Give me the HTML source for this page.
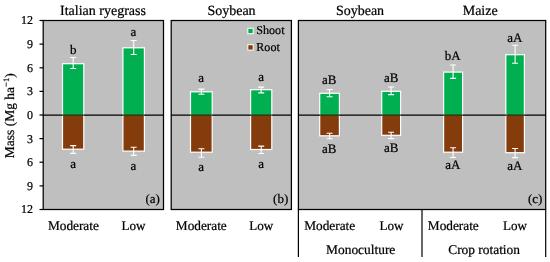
<!DOCTYPE html>
<html><head><meta charset="utf-8"><title>Chart</title><style>html,body{margin:0;padding:0;background:#fff}</style></head><body>
<svg width="550" height="262" viewBox="0 0 550 262" style="display:block;font-family:'Liberation Serif','Times New Roman',serif" text-rendering="geometricPrecision"><style>text{stroke:#000;stroke-width:.22px;fill:#000}</style>
<rect width="550" height="262" fill="#fff"/>
<rect x="43.2" y="20.5" width="120.3" height="189.0" fill="#bfbfbf" stroke="#000" stroke-width="1.25"/>
<rect x="171.2" y="20.5" width="120.2" height="189.0" fill="#bfbfbf" stroke="#000" stroke-width="1.25"/>
<rect x="298.4" y="20.5" width="247.3" height="189.0" fill="#bfbfbf" stroke="#000" stroke-width="1.25"/>
<rect x="62.50" y="63.70" width="21.30" height="51.30" fill="#00b050"/>
<rect x="62.50" y="115.0" width="21.30" height="34.20" fill="#843c0c"/>
<rect x="62.50" y="63.70" width="21.30" height="85.50" fill="none" stroke="#fff" stroke-width="1.2"/>
<path d="M73.2 57.5V68.5M70.2 57.5h6M70.2 68.5h6" stroke="#fff" stroke-width="1.1" fill="none"/>
<path d="M73.2 145.6V153.4M70.2 145.6h6M70.2 153.4h6" stroke="#fff" stroke-width="1.1" fill="none"/>
<text x="73.2" y="53.5" font-size="13" text-anchor="middle">b</text>
<text x="73.2" y="168.2" font-size="13" text-anchor="middle">a</text>
<rect x="122.90" y="47.80" width="21.50" height="67.20" fill="#00b050"/>
<rect x="122.90" y="115.0" width="21.50" height="36.10" fill="#843c0c"/>
<rect x="122.90" y="47.80" width="21.50" height="103.30" fill="none" stroke="#fff" stroke-width="1.2"/>
<path d="M133.7 40.5V54.5M130.7 40.5h6M130.7 54.5h6" stroke="#fff" stroke-width="1.1" fill="none"/>
<path d="M133.7 147.3V155.4M130.7 147.3h6M130.7 155.4h6" stroke="#fff" stroke-width="1.1" fill="none"/>
<text x="133.5" y="35.8" font-size="13" text-anchor="middle">a</text>
<text x="133.5" y="170.1" font-size="13" text-anchor="middle">a</text>
<rect x="190.50" y="91.80" width="21.70" height="23.20" fill="#00b050"/>
<rect x="190.50" y="115.0" width="21.70" height="37.20" fill="#843c0c"/>
<rect x="190.50" y="91.80" width="21.70" height="60.40" fill="none" stroke="#fff" stroke-width="1.2"/>
<path d="M201.4 89.1V94.3M198.4 89.1h6M198.4 94.3h6" stroke="#fff" stroke-width="1.1" fill="none"/>
<path d="M201.4 148.7V157.3M198.4 148.7h6M198.4 157.3h6" stroke="#fff" stroke-width="1.1" fill="none"/>
<text x="201.2" y="82.4" font-size="13" text-anchor="middle">a</text>
<text x="201.2" y="171.4" font-size="13" text-anchor="middle">a</text>
<rect x="250.60" y="89.70" width="21.20" height="25.30" fill="#00b050"/>
<rect x="250.60" y="115.0" width="21.20" height="34.50" fill="#843c0c"/>
<rect x="250.60" y="89.70" width="21.20" height="59.80" fill="none" stroke="#fff" stroke-width="1.2"/>
<path d="M261.2 87.1V92.9M258.2 87.1h6M258.2 92.9h6" stroke="#fff" stroke-width="1.1" fill="none"/>
<path d="M261.2 146.1V153.5M258.2 146.1h6M258.2 153.5h6" stroke="#fff" stroke-width="1.1" fill="none"/>
<text x="261.2" y="80.5" font-size="13" text-anchor="middle">a</text>
<text x="261.2" y="168.2" font-size="13" text-anchor="middle">a</text>
<rect x="319.70" y="93.30" width="19.70" height="21.70" fill="#00b050"/>
<rect x="319.70" y="115.0" width="19.70" height="20.80" fill="#843c0c"/>
<rect x="319.70" y="93.30" width="19.70" height="42.50" fill="none" stroke="#fff" stroke-width="1.2"/>
<path d="M329.6 89.5V96.8M326.6 89.5h6M326.6 96.8h6" stroke="#fff" stroke-width="1.1" fill="none"/>
<path d="M329.6 133.3V138.8M326.6 133.3h6M326.6 138.8h6" stroke="#fff" stroke-width="1.1" fill="none"/>
<text x="329.3" y="83.8" font-size="13" text-anchor="middle">aB</text>
<text x="329.3" y="153.3" font-size="13" text-anchor="middle">aB</text>
<rect x="381.70" y="91.30" width="18.90" height="23.70" fill="#00b050"/>
<rect x="381.70" y="115.0" width="18.90" height="20.30" fill="#843c0c"/>
<rect x="381.70" y="91.30" width="18.90" height="44.00" fill="none" stroke="#fff" stroke-width="1.2"/>
<path d="M391.1 87.0V94.6M388.1 87.0h6M388.1 94.6h6" stroke="#fff" stroke-width="1.1" fill="none"/>
<path d="M391.1 132.3V138.6M388.1 132.3h6M388.1 138.6h6" stroke="#fff" stroke-width="1.1" fill="none"/>
<text x="391.2" y="82.0" font-size="13" text-anchor="middle">aB</text>
<text x="391.2" y="151.9" font-size="13" text-anchor="middle">aB</text>
<rect x="443.60" y="72.10" width="19.00" height="42.90" fill="#00b050"/>
<rect x="443.60" y="115.0" width="19.00" height="37.20" fill="#843c0c"/>
<rect x="443.60" y="72.10" width="19.00" height="80.10" fill="none" stroke="#fff" stroke-width="1.2"/>
<path d="M453.1 65.0V78.4M450.1 65.0h6M450.1 78.4h6" stroke="#fff" stroke-width="1.1" fill="none"/>
<path d="M453.1 147.8V157.5M450.1 147.8h6M450.1 157.5h6" stroke="#fff" stroke-width="1.1" fill="none"/>
<text x="452.8" y="60.3" font-size="13" text-anchor="middle">bA</text>
<text x="452.8" y="169.2" font-size="13" text-anchor="middle">aA</text>
<rect x="505.80" y="54.70" width="18.60" height="60.30" fill="#00b050"/>
<rect x="505.80" y="115.0" width="18.60" height="37.70" fill="#843c0c"/>
<rect x="505.80" y="54.70" width="18.60" height="98.00" fill="none" stroke="#fff" stroke-width="1.2"/>
<path d="M515.1 45.3V63.3M512.1 45.3h6M512.1 63.3h6" stroke="#fff" stroke-width="1.1" fill="none"/>
<path d="M515.1 148.5V157.6M512.1 148.5h6M512.1 157.6h6" stroke="#fff" stroke-width="1.1" fill="none"/>
<text x="514.8" y="41.6" font-size="13" text-anchor="middle">aA</text>
<text x="514.8" y="169.5" font-size="13" text-anchor="middle">aA</text>
<path d="M62.90 115.0H83.40" stroke="#000" stroke-opacity="0.65" stroke-width="1"/>
<path d="M123.30 115.0H144.00" stroke="#000" stroke-opacity="0.65" stroke-width="1"/>
<path d="M43.2 115.0H62.9M83.4 115.0H123.3M144.0 115.0H163.5" stroke="#000" stroke-width="1.25"/>
<path d="M190.90 115.0H211.80" stroke="#000" stroke-opacity="0.65" stroke-width="1"/>
<path d="M251.00 115.0H271.40" stroke="#000" stroke-opacity="0.65" stroke-width="1"/>
<path d="M171.2 115.0H190.9M211.8 115.0H251.0M271.4 115.0H291.4" stroke="#000" stroke-width="1.25"/>
<path d="M320.10 115.0H339.00" stroke="#000" stroke-opacity="0.65" stroke-width="1"/>
<path d="M382.10 115.0H400.20" stroke="#000" stroke-opacity="0.65" stroke-width="1"/>
<path d="M444.00 115.0H462.20" stroke="#000" stroke-opacity="0.65" stroke-width="1"/>
<path d="M506.20 115.0H524.00" stroke="#000" stroke-opacity="0.65" stroke-width="1"/>
<path d="M298.4 115.0H320.1M339.0 115.0H382.1M400.2 115.0H444.0M462.2 115.0H506.2M524.0 115.0H545.7" stroke="#000" stroke-width="1.25"/>
<path d="M39.5 20.5H43.2" stroke="#000" stroke-width="1.2"/>
<text x="32.9" y="24.4" font-size="12" text-anchor="end">12</text>
<path d="M39.5 44.1H43.2" stroke="#000" stroke-width="1.2"/>
<text x="32.9" y="48.0" font-size="12" text-anchor="end">9</text>
<path d="M39.5 67.8H43.2" stroke="#000" stroke-width="1.2"/>
<text x="32.9" y="71.7" font-size="12" text-anchor="end">6</text>
<path d="M39.5 91.4H43.2" stroke="#000" stroke-width="1.2"/>
<text x="32.9" y="95.3" font-size="12" text-anchor="end">3</text>
<path d="M39.5 115.0H43.2" stroke="#000" stroke-width="1.2"/>
<text x="32.9" y="118.9" font-size="12" text-anchor="end">0</text>
<path d="M39.5 138.6H43.2" stroke="#000" stroke-width="1.2"/>
<text x="32.9" y="142.5" font-size="12" text-anchor="end">3</text>
<path d="M39.5 162.2H43.2" stroke="#000" stroke-width="1.2"/>
<text x="32.9" y="166.2" font-size="12" text-anchor="end">6</text>
<path d="M39.5 185.9H43.2" stroke="#000" stroke-width="1.2"/>
<text x="32.9" y="189.8" font-size="12" text-anchor="end">9</text>
<path d="M39.5 209.5H43.2" stroke="#000" stroke-width="1.2"/>
<text x="32.9" y="213.4" font-size="12" text-anchor="end">12</text>
<text transform="translate(13.8,115.7) rotate(-90)" font-size="13.5" text-anchor="middle">Mass (Mg ha<tspan font-size="8.6" dy="-5.2">−1</tspan><tspan dy="5.2">)</tspan></text>
<text x="103.0" y="15" font-size="14" text-anchor="middle">Italian ryegrass</text>
<text x="231.5" y="15" font-size="14" text-anchor="middle">Soybean</text>
<text x="360" y="15" font-size="14" text-anchor="middle">Soybean</text>
<text x="480.2" y="15" font-size="14" text-anchor="middle">Maize</text>
<rect x="247.8" y="28.3" width="5.4" height="5.4" fill="#00b050" stroke="#fff" stroke-width="1"/>
<rect x="247.8" y="44.7" width="5.4" height="5.4" fill="#843c0c" stroke="#fff" stroke-width="1"/>
<text x="256.3" y="34.4" font-size="12.1">Shoot</text>
<text x="256.3" y="50.9" font-size="12.1">Root</text>
<text x="152.7" y="203" font-size="13" text-anchor="middle">(a)</text>
<text x="280.7" y="203" font-size="13" text-anchor="middle">(b)</text>
<text x="535.1" y="203" font-size="13" text-anchor="middle">(c)</text>
<text x="73.4" y="229.5" font-size="13.3" text-anchor="middle">Moderate</text>
<text x="133.5" y="229.5" font-size="13.1" text-anchor="middle">Low</text>
<text x="201.3" y="229.5" font-size="13.3" text-anchor="middle">Moderate</text>
<text x="261.2" y="229.5" font-size="13.1" text-anchor="middle">Low</text>
<text x="329.7" y="229.5" font-size="13.3" text-anchor="middle">Moderate</text>
<text x="391.4" y="229.5" font-size="13.1" text-anchor="middle">Low</text>
<text x="453.3" y="229.5" font-size="13.3" text-anchor="middle">Moderate</text>
<text x="515" y="229.5" font-size="13.1" text-anchor="middle">Low</text>
<text x="360.7" y="253.7" font-size="13.4" text-anchor="middle">Monoculture</text>
<text x="484.1" y="253.7" font-size="13.4" text-anchor="middle">Crop rotation</text>
<path d="M298.4 209.5V256.9" stroke="#000" stroke-width="1.2"/>
<path d="M422.0 209.5V256.9" stroke="#000" stroke-width="1.2"/>
<path d="M545.7 209.5V256.9" stroke="#000" stroke-width="1.2"/>
</svg>
</body></html>
